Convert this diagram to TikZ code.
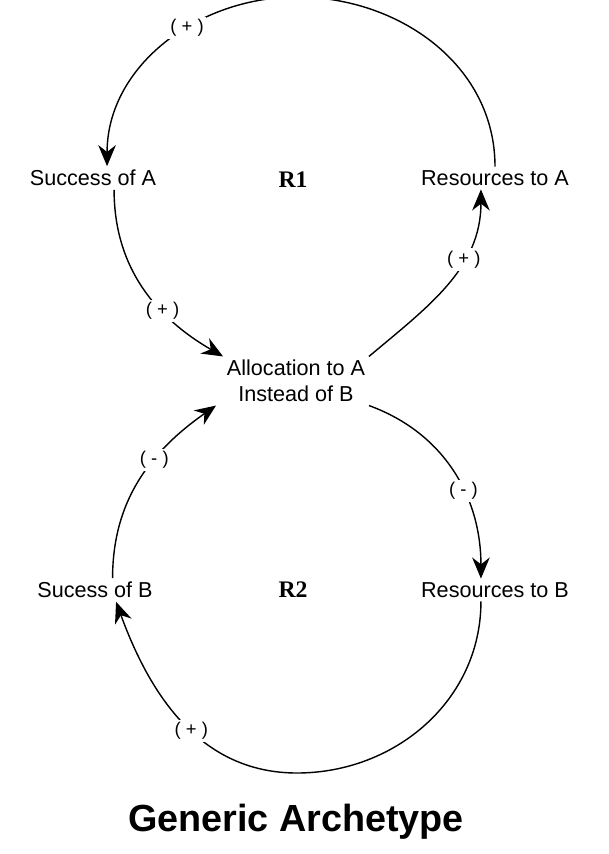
\documentclass[tikz,border=0pt]{standalone}
\usepackage{fontspec}
\setmainfont{Liberation Sans}
\newfontfamily\rfont{Liberation Serif}
\usetikzlibrary{arrows.meta}
\tikzset{
    var/.style={font=\fontsize{12.3}{14.5}\selectfont, inner sep=2pt, align=center},
    loopname/.style={font=\rfont\bfseries\fontsize{13.5}{15}\selectfont},
    sign/.style={font=\fontsize{10.5}{12}\selectfont, fill=white, inner sep=1.5pt},
    link/.style={draw, line width=0.8pt, -{Stealth[length=12pt,width=10pt]}}}
\begin{document}
\begin{tikzpicture}[x=0.02cm,y=-0.02cm]
        \useasboundingbox (0,0) rectangle (608,854);
        \node[var] (SA) at (93,178) {Success of A};
        \node[var] (RA) at (495,178) {Resources to A};
        \node[var] (AL) at (296,381) {Allocation to A\\Instead of B};
        \node[var] (SB) at (95,590) {Sucess of B};
        \node[var] (RB) at (495,590) {Resources to B};
        \node[loopname] (R1) at (293,180) {R1};
        \node[loopname] (R2) at (293,590) {R2};
        \node[font=\bfseries\fontsize{21.5}{25}\selectfont] (title) at (296,822) {Generic Archetype};
        \coordinate (top) at (297,-3);
        \coordinate (bot) at (297,773);

        % upper loop
        \draw[link] (RA.north) to[out=90,in=0] (top)
            to[out=180,in=90] node[sign,pos=0.4] {( + )} ([xshift=8]SA.north);
        \draw[link] ([xshift=12]SA.south) to[out=-90,in=150] node[sign,pos=0.65] {( + )} (AL.north west);
        \draw[link] (AL.north east) to[out=40,in=-90] node[sign,pos=0.65] {( + )} ([xshift=-8]RA.south);

        % lower loop
        \draw[link] (AL.south east) to[out=-20,in=90] node[sign,pos=0.6] {( - )} ([xshift=-8]RB.north);
        \draw[link] ([xshift=-8]RB.south) to[out=-90,in=0] (bot)
            to[out=180,in=-70] node[sign,pos=0.45] {( + )} ([xshift=12]SB.south);
        \draw[link] ([xshift=10]SB.north) to[out=90,in=215] node[sign,pos=0.62] {( - )} ([xshift=-4]AL.south west);
    \end{tikzpicture}
\end{document}
